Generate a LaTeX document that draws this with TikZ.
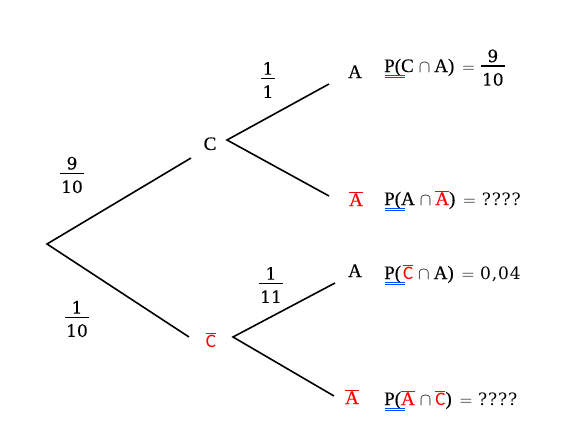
\documentclass[tikz,border=0pt]{standalone}
\usepackage{fontspec}
\setmainfont{Liberation Serif}[UprightFeatures={FakeBold=0.4}]
\newfontfamily\dig{DejaVu Serif}[UprightFeatures={FakeBold=0.3}]
\newfontfamily\digw{DejaVu Serif}[LetterSpace=5]
\newfontfamily\calfont{Carlito}
\newcommand\ovl[1]{\ensuremath{\overline{\mbox{#1}}}}
\newcommand\fr[2]{\ensuremath{\vcenter{\halign{\hskip1.2pt\hfil##\hfil\hskip1.2pt\cr
  \fontsize{17}{17}\dig #1\cr\noalign{\kern3pt\hrule height 1.7pt\kern6pt}
  \fontsize{17}{17}\dig #2\cr}}}}
\newcommand\capx{\hspace{5pt}$\cap$\hspace{4pt}}
\newcommand\eqx{\hspace{8pt}$=$\hspace{6pt}}
\begin{document}
\begin{tikzpicture}[x=1pt,y=-1pt,
  br/.style={line width=1.6pt, black},
  lab/.style={inner sep=0pt, anchor=base, font=\fontsize{19}{22}\selectfont},
  eq/.style={inner sep=0pt, anchor=base west, font=\fontsize{19}{22}\selectfont},
  fra/.style={inner sep=0pt}]
\useasboundingbox (0,0) rectangle (584,426);
% branch coordinates
\coordinate (root) at (47,244);
\coordinate (c1end) at (191,158);
\coordinate (c2end) at (189,337);
\coordinate (c1) at (227,140);
\coordinate (c1a) at (329,84);
\coordinate (c1b) at (329,196);
\coordinate (c2) at (233,337);
\coordinate (c2a) at (335,283);
\coordinate (c2b) at (334,396);
\draw[br] (c1end) -- (root) -- (c2end);
\draw[br] (c1a) -- (c1) -- (c1b);
\draw[br] (c2a) -- (c2) -- (c2b);
% labels
\node[lab] (C) at (210,150) {C};
\node[lab,text=red] (Cb) at (211,347) {\ovl{\calfont C}};
\node[lab] (A1) at (355,78) {A};
\node[lab,text=red] (A1b) at (356,206) {\ovl{A}};
\node[lab] (A2) at (355,277) {A};
\node[lab,text=red] (A2b) at (352,404) {\ovl{A}};
% fractions
\node[fra] (f1) at (72,175) {\fr{9}{10}};
\node[fra] (f2) at (77,319) {\fr{1}{10}};
\node[fra] (f3) at (268,80) {\fr{1}{1}};
\node[fra] (f4) at (271,285) {\fr{1}{11}};
% equations
\node[eq] (e1) at (384,72) {P(C\capx A)\eqx\fr{9}{10}};
\node[eq] (e2) at (384,205) {P(A\capx\textcolor{red}{\ovl{A}})\eqx{\fontsize{17}{20}\digw ????}};
\node[eq] (e3) at (384,279) {P(\hspace{2pt}\textcolor{red}{\ovl{\calfont C}}\capx A)\eqx{\fontsize{17}{20}\digw 0,04}};
\node[eq] (e4) at (384,405) {P(\textcolor{red}{\ovl{A}}\capx\textcolor{red}{\ovl{\calfont C}})\eqx{\fontsize{17}{20}\digw ????}};
% blue underlines
\foreach \b in {72,205,279,405}{
  \draw[blue!70!cyan, line width=0.9pt] (385,\b+3) -- (405,\b+3);
  \draw[blue!70!cyan, line width=0.9pt] (385,\b+5.5) -- (405,\b+5.5);
}
\end{tikzpicture}
\end{document}
